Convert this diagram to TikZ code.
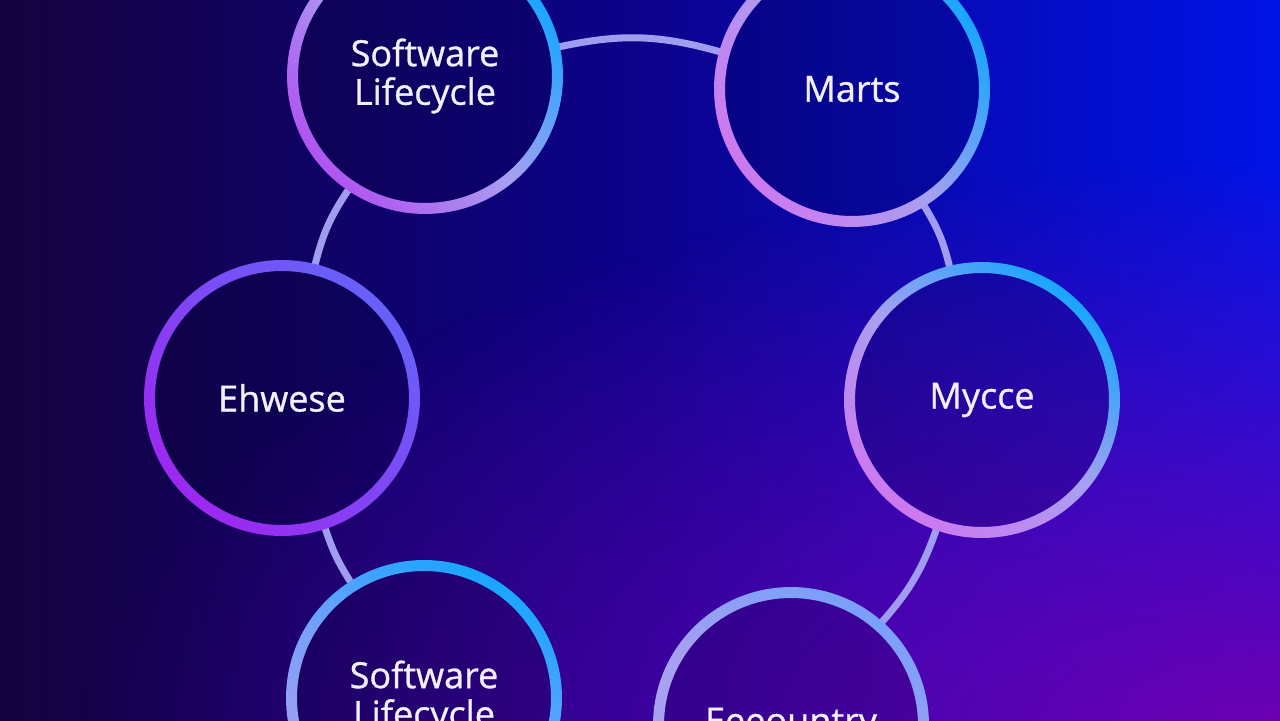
\documentclass[tikz,border=0pt]{standalone}
\usepackage{fontspec}
\setmainfont{Open Sans}[FakeBold=0.9]
\usetikzlibrary{fadings}

\definecolor{bgleft}{RGB}{20,2,62}
\definecolor{bgmid}{RGB}{12,2,140}
\definecolor{bgright}{RGB}{0,20,232}
\definecolor{glow}{RGB}{112,0,176}
\definecolor{ringcyan}{RGB}{24,166,255}
\definecolor{ringlav}{RGB}{168,160,240}
\definecolor{ringviolet}{RGB}{176,84,240}
\definecolor{ringpink}{RGB}{205,120,240}
\definecolor{ringblue}{RGB}{104,96,248}
\definecolor{ringmauve}{RGB}{128,70,245}
\definecolor{ringpurple}{RGB}{156,40,240}
\definecolor{ringsky}{RGB}{120,160,250}
\definecolor{linklav}{RGB}{160,156,240}
\definecolor{labelwhite}{RGB}{242,240,255}

\tikzfading[name=glowfade, inner color=transparent!0, outer color=transparent!100]

\tikzset{
	hub/.style={circle, minimum size=5.5cm, inner sep=0pt, outer sep=0pt,
		fill=black, fill opacity=0.12, text opacity=1, text=labelwhite,
		align=center, font=\fontsize{20.5}{22}\selectfont},
	link/.style={draw=linklav, line width=4pt},
}

% ring round a hub: name, top, middle, bottom colour, angle
\newcommand\hubring[5]{%
	\shade[even odd rule, top color=#2, bottom color=#4, middle color=#3, shading angle=#5]
		(#1.center) circle (2.76cm) (#1.center) circle (2.54cm);
}

\begin{document}
\begin{tikzpicture}[x=0.02cm, y=0.02cm]
		\clip (0,0) rectangle (1280,720);
		\shade[left color=bgleft, right color=bgright, middle color=bgmid] (0,0) rectangle (1280,720);
		\fill[glow, path fading=glowfade] (1280,-20) ellipse (1200 and 580);

		\node[hub] (sw1) at (425,644) {Software\\Lifecycle};
		\node[hub] (marts) at (852,631) {Marts};
		\node[hub] (ehw) at (282,322) {Ehwese};
		\node[hub] (mycce) at (982,320) {Mycce};
		\node[hub] (sw2) at (424,22) {Software\\Lifecycle};
		\node[hub] (eco) at (791,-5) {Eeeountry};

		\draw[link] (sw1) to[bend left=14] (marts);
		\draw[link] (sw1) to[bend right=10] (ehw);
		\draw[link] (marts) to[bend left=9] (mycce);
		\draw[link] (ehw) to[bend right=7] (sw2);
		\draw[link] (mycce) to[bend left=11] (eco);

		\hubring{sw1}{ringcyan}{ringlav}{ringviolet}{-50}
		\hubring{marts}{ringcyan}{ringlav}{ringpink}{-55}
		\hubring{ehw}{ringblue}{ringmauve}{ringpurple}{-45}
		\hubring{mycce}{ringcyan}{ringlav}{ringpink}{-40}
		\hubring{sw2}{ringcyan}{ringsky}{ringlav}{-30}
		\hubring{eco}{ringsky}{ringlav}{ringlav}{-30}
	\end{tikzpicture}
\end{document}
